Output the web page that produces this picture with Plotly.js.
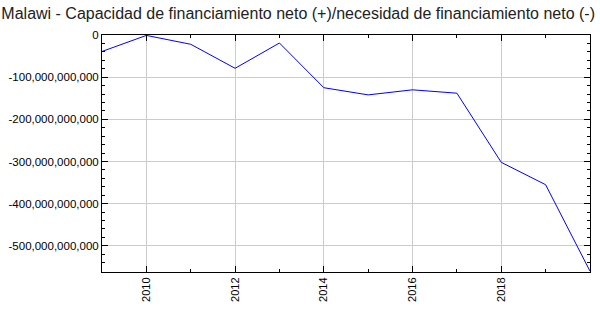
<!DOCTYPE html>
<html>
<head>
<meta charset="utf-8">
<script src="https://cdn.plot.ly/plotly-3.0.1.min.js"></script>
<style>html,body{margin:0;padding:0;background:#fff;}#chart{width:600px;height:315px;}</style>
</head>
<body>
<div id="chart"></div>
<script>
const chartTitle = "Malawi - Capacidad de financiamiento neto (+)/necesidad de financiamiento neto (-)";
const years = [2009, 2010, 2011, 2012, 2013, 2014, 2015, 2016, 2017, 2018, 2019, 2020];
const values = [-39e9, -1e9, -22e9, -79e9, -19e9, -125e9, -142e9, -130e9, -138e9, -302e9, -355e9, -560e9];
const yTickVals = [0, -100e9, -200e9, -300e9, -400e9, -500e9];
const xTickVals = [2010, 2012, 2014, 2016, 2018];

const yTickText = yTickVals.map(v => (v < 0 ? "-" : "") + Math.abs(v).toLocaleString("en-US"));

const trace = {
  x: years, y: values, type: "scatter", mode: "lines",
  line: {color: "#0000ff", width: 1}, hoverinfo: "skip"
};

const layout = {
  width: 600, height: 315,
  margin: {l: 102, r: 10, t: 35, b: 43},
  paper_bgcolor: "#fff", plot_bgcolor: "#fff",
  showlegend: false,
  font: {family: "Liberation Sans, Arial, sans-serif", color: "#000"},
  title: {text: chartTitle, x: 0.497, xref: "container", xanchor: "center", y: 0.975, yanchor: "top",
          font: {size: 16, color: "#222", family: "Liberation Sans, Arial, sans-serif"}},
  xaxis: {
    range: [2009, 2020], tickmode: "array", tickvals: xTickVals, ticktext: xTickVals.map(String),
    tickangle: -90, tickfont: {size: 11},
    showgrid: true, gridcolor: "#cccccc", gridwidth: 1,
    showline: true, linecolor: "#000", linewidth: 1, mirror: "ticks",
    ticks: "inside", ticklen: 6, tickcolor: "#000", zeroline: false,
    minor: {dtick: 1, tick0: 2009, ticks: "inside", ticklen: 3, tickcolor: "#000", showgrid: false}
  },
  yaxis: {
    range: [-562e9, 0], tickmode: "array", tickvals: yTickVals, ticktext: yTickText,
    tickfont: {size: 11.5},
    showgrid: true, gridcolor: "#cccccc", gridwidth: 1,
    showline: true, linecolor: "#000", linewidth: 1, mirror: "ticks",
    ticks: "inside", ticklen: 6, tickcolor: "#000", zeroline: false,
    minor: {dtick: 20e9, tick0: 0, ticks: "inside", ticklen: 3, tickcolor: "#000", showgrid: false}
  }
};

Plotly.newPlot("chart", [trace], layout, {staticPlot: true, displayModeBar: false});
</script>
</body>
</html>
